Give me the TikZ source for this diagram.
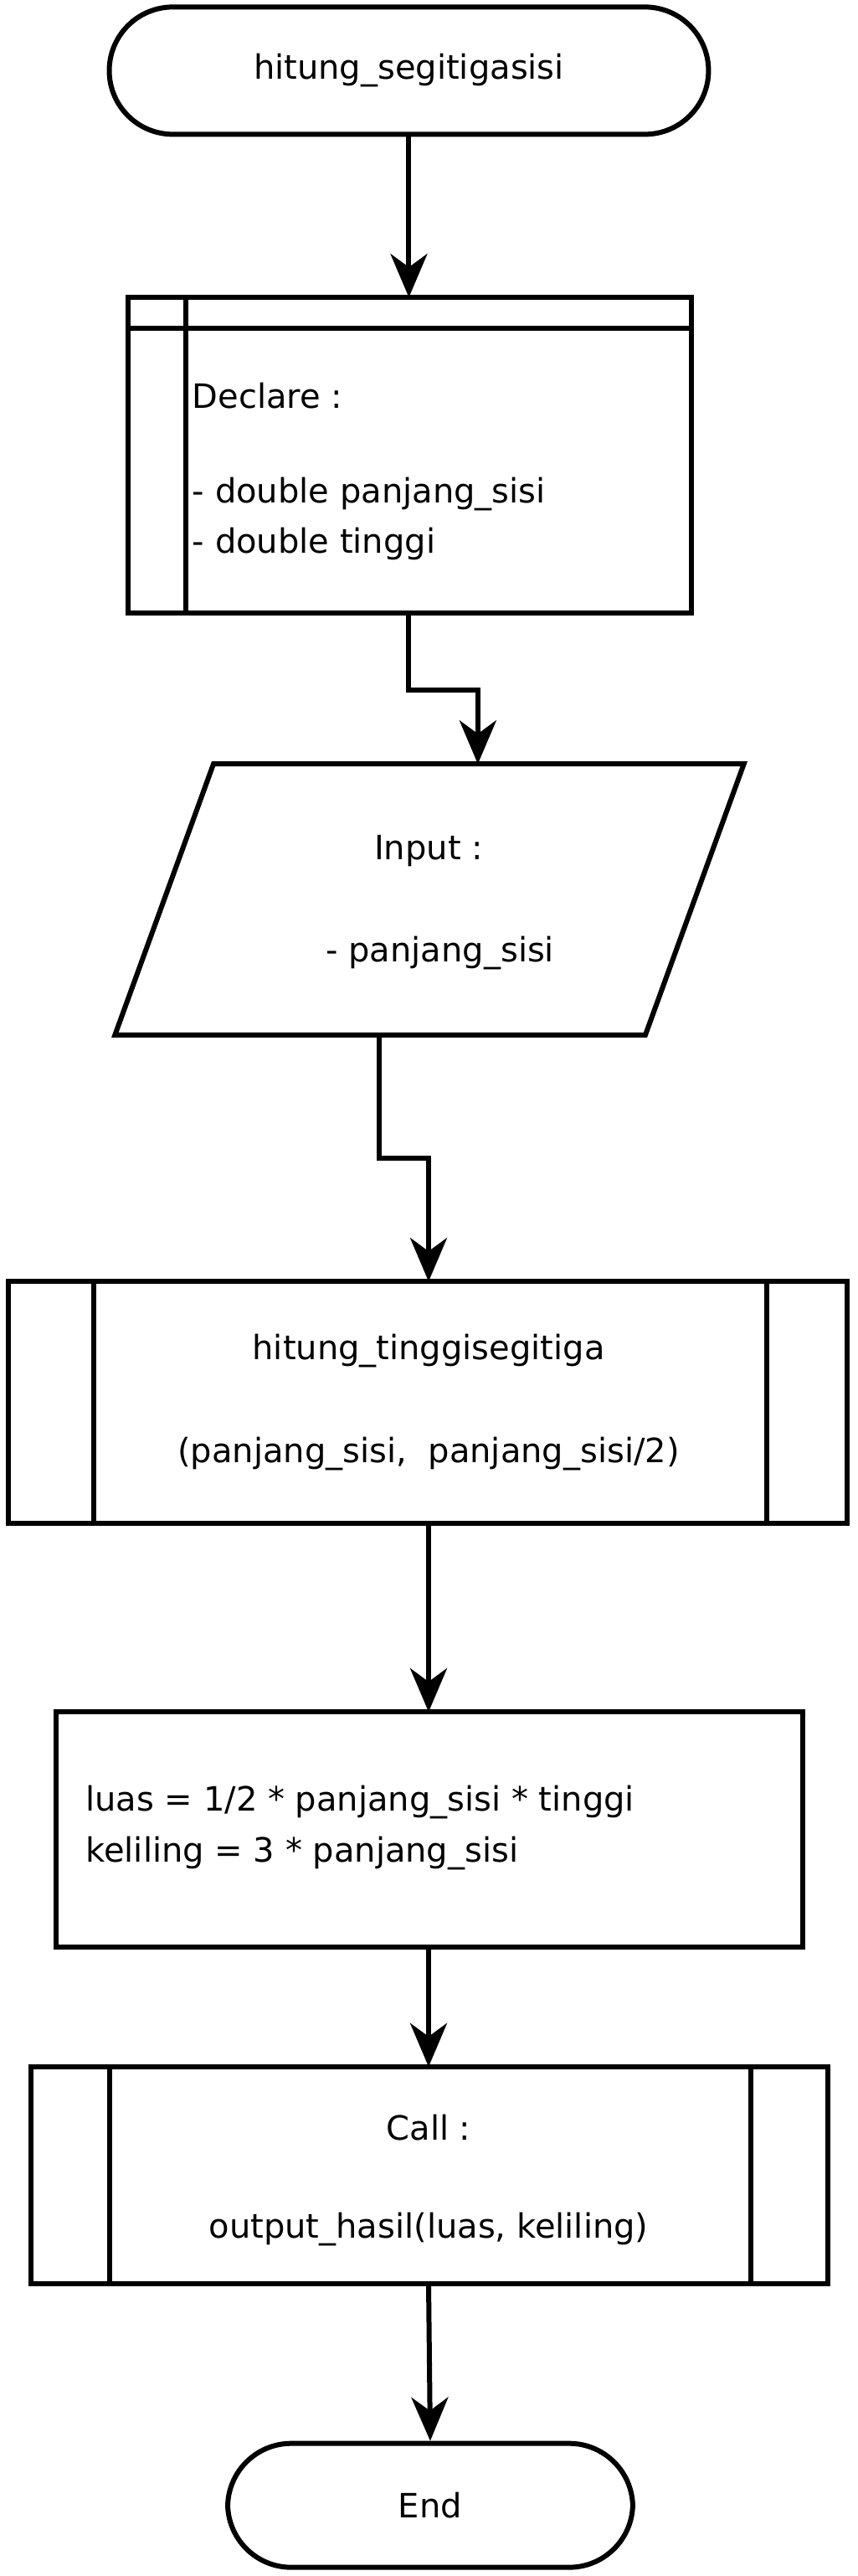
\documentclass[tikz,border=0pt]{standalone}
\usepackage{fontspec}
\setmainfont{DejaVu Sans}
\usetikzlibrary{arrows.meta,calc}
\begin{document}
\begin{tikzpicture}[x=0.981pt,y=-0.981pt,
  ln/.style={line width=3pt},
  arr/.style={ln,-{Stealth[length=26pt,width=22pt,inset=8pt]}},
  txt/.style={font=\fontsize{20pt}{24pt}\selectfont,inner sep=0pt},
  term/.style={ln,draw,rounded corners=38pt,inner sep=0pt}]
\useasboundingbox (0,0) rectangle (522,1568);
% start
\node[term,minimum width=358pt,minimum height=76pt] (start) at (249,43) {};
\node[txt] (t1) at (249,43) {hitung\_segitigasisi};
% declare
\draw[ln] (78,181) rectangle (421,373);
\draw[ln] (113,181) -- (113,373) (78,200) -- (421,200);
\coordinate (decT) at (249,181); \coordinate (decB) at (249,373);
\node[txt,anchor=west] (d1) at (117,241) {Declare :};
\node[txt,anchor=west] (d2) at (117,301) {- double panjang\_sisi};
\node[txt,anchor=west] (d3) at (117,331) {- double tinggi};
% input
\draw[ln] (130,465) -- (453,465) -- (393,630) -- (70,630) -- cycle;
\coordinate (inT) at (291,465); \coordinate (inB) at (231,630);
\node[txt] (i1) at (261,518) {Input :};
\node[txt] (i2) at (268,580) {- panjang\_sisi};
% subroutine
\draw[ln] (5,780) rectangle (516,927);
\draw[ln] (57,780) -- (57,927) (467,780) -- (467,927);
\coordinate (s1T) at (261,780); \coordinate (s1B) at (261,927);
\node[txt] (h1) at (261,822) {hitung\_tinggisegitiga};
\node[txt] (h2) at (261,885) {(panjang\_sisi,\ \ panjang\_sisi/2)};
% process
\draw[ln] (34,1042) rectangle (489,1185);
\coordinate (pT) at (261,1042); \coordinate (pB) at (261,1185);
\node[txt,anchor=west] (p1) at (52,1097) {luas = 1/2 * panjang\_sisi * tinggi};
\node[txt,anchor=west] (p2) at (52,1128) {keliling = 3 * panjang\_sisi};
% call
\draw[ln] (19,1258) rectangle (504,1390);
\draw[ln] (67,1258) -- (67,1390) (457,1258) -- (457,1390);
\coordinate (cT) at (261,1258); \coordinate (cB) at (261,1390);
\node[txt] (c1) at (261,1295) {Call :};
\node[txt] (c2) at (261,1357) {output\_hasil(luas, keliling)};
% end
\node[term,minimum width=242pt,minimum height=74pt] (end) at (262,1525) {};
\node[txt] (e1) at (262,1525) {End};
% arrows
\draw[arr] (start.south) -- (decT);
\draw[arr] (decB) -- (249,420) -- (291,420) -- (inT);
\draw[arr] (inB) -- (231,705) -- (261,705) -- (s1T);
\draw[arr] (s1B) -- (pT);
\draw[arr] (pB) -- (cT);
\draw[arr] (cB) -- (end.north);
\end{tikzpicture}
\end{document}
